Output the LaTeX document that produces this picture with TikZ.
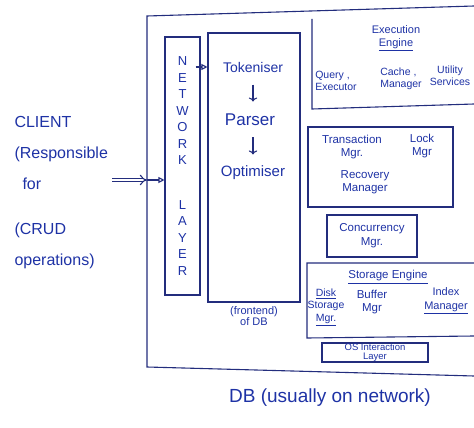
\documentclass[tikz,border=0pt]{standalone}
\usepackage{fontspec}
\setmainfont{Liberation Sans}
\usetikzlibrary{positioning,arrows.meta}
\definecolor{inkc}{RGB}{35,45,125}
\definecolor{penc}{RGB}{30,50,165}

\begin{document}
\begin{tikzpicture}[x=1pt, y=-1pt, line width=1.1pt, color=inkc, text=penc,
    box/.style={rectangle, draw, inner sep=0pt},
    lbl/.style={align=center, inner sep=0pt},
    flow/.style={-{Triangle[open, length=6pt, width=6pt]}},
    sm/.style={font=\fontsize{10.5}{12}\selectfont},
    md/.style={font=\fontsize{11.5}{13}\selectfont}]

    \useasboundingbox (0,0) rectangle (474,428);

    \coordinate (dbtr) at (474,6);
    \coordinate (dbtl) at (147,16);
    \coordinate (dbbl) at (147,367);
    \coordinate (dbbr) at (474,376);
    \coordinate (dbin) at (147,180);

    \node[lbl, align=left, anchor=north west, font=\fontsize{16}{31}\selectfont] (client) at (14,116) {CLIENT\\(Responsible\\\hspace*{8pt}for\\[14pt](CRUD\\operations)};

    \node[box, minimum width=35pt, minimum height=258pt, align=center, font=\fontsize{13}{16.5}\selectfont] (netlayer) at (182.5,166) {N\\E\\T\\W\\O\\R\\K\\[28pt]L\\A\\Y\\E\\R};
    \node[box, minimum width=92pt, minimum height=269pt] (frontend) at (254,167.5) {};
    \node[lbl, font=\fontsize{14}{16}\selectfont] (tokeniser) at (253,67) {Tokeniser};
    \node[lbl, font=\fontsize{17}{19}\selectfont] (parser) at (250,120) {Parser};
    \node[lbl, font=\fontsize{15}{17}\selectfont] (optimiser) at (253,173) {Optimiser};
    \node[lbl, font=\fontsize{11}{11}\selectfont, below=3pt of frontend] (fenote) {(frontend)\\of DB};

    \node[lbl, font=\fontsize{11}{13}\selectfont] (execeng) at (396,38) {Execution\\\underline{Engine}};
    \node[lbl, sm, align=left] (qexec) at (336,81) {Query ,\\Executor};
    \node[lbl, sm, align=left] (cachemgr) at (401,79) {Cache ,\\Manager};
    \node[lbl, sm] (utilsvc) at (450,76) {Utility\\Services};

    \node[box, minimum width=145pt, minimum height=80pt] (txnbox) at (380.5,167) {};
    \node[lbl, md] (txnmgr) at (352,147) {Transaction\\Mgr.};
    \node[lbl, md] (lockmgr) at (422,146) {Lock\\Mgr};
    \node[lbl, md] (recmgr) at (365,182) {Recovery\\Manager};

    \node[box, minimum width=90pt, minimum height=42pt, align=center, font=\fontsize{11.5}{14}\selectfont] (concmgr) at (372,236) {Concurrency\\Mgr.};

    \node[lbl, font=\fontsize{11.5}{12}\selectfont] (storeng) at (388,277) {\underline{Storage Engine}};
    \node[lbl, font=\fontsize{10.5}{12.5}\selectfont] (diskmgr) at (326,307) {\underline{Disk}\\Storage\\\underline{Mgr.}};
    \node[lbl, md] (bufmgr) at (372,302) {Buffer\\Mgr};
    \node[lbl, font=\fontsize{11}{14}\selectfont] (idxmgr) at (446,301) {Index\\\underline{Manager}};

    \node[box, minimum width=106pt, minimum height=19pt, align=center, font=\fontsize{9.5}{8.5}\selectfont] (oslayer) at (375,352.5) {OS Interaction\\Layer};

    \node[lbl, font=\fontsize{19}{21}\selectfont] (dblabel) at (330,398) {DB (usually on network)};

    \draw (dbtr) -- (dbtl) -- (dbbl) -- (dbbr);
    \draw (312,19) -- (312,109) -- (474,104);
    \draw (474,263) -- (307,263) -- (307,338) -- (474,336);

    \draw[double, double distance=2.5pt, -{Implies}] ([xshift=4pt]client.east |- dbin) -- (dbin);
    \draw[flow] (dbin) -- (netlayer.west |- dbin);
    \draw[flow] ([xshift=-5pt]netlayer.east |- tokeniser) -- (frontend.west |- tokeniser);
    \draw[->, shorten >=12pt, shorten <=12pt] (tokeniser.south) -- (tokeniser.south |- parser.north);
    \draw[->, shorten >=11pt, shorten <=11pt] (tokeniser.south |- parser.south) -- (tokeniser.south |- optimiser.north);

\end{tikzpicture}
\end{document}
